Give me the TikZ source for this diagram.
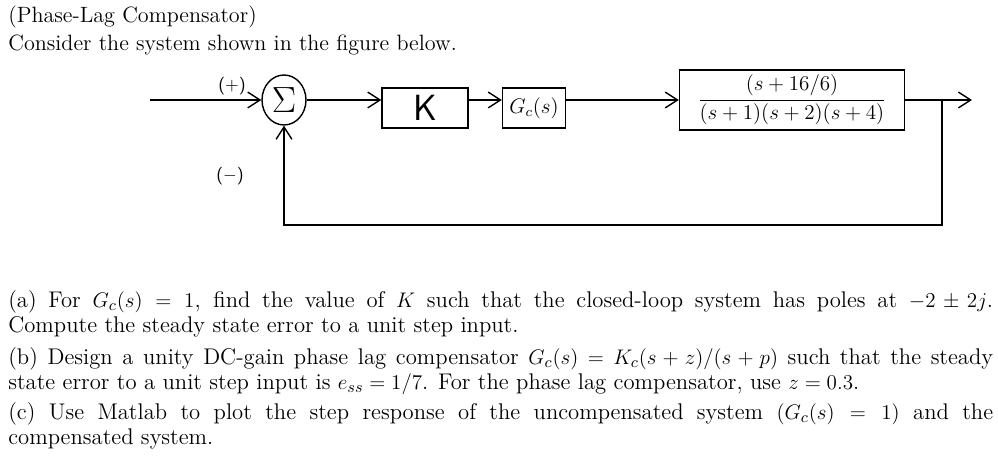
\documentclass[tikz,border=0pt]{standalone}
\usetikzlibrary{arrows.meta,shapes.geometric}
\begin{document}
\begin{tikzpicture}[x=0.02cm,y=-0.02cm,
  blk/.style={draw,thick,minimum height=0.8cm},
  arr/.style={thick,-{Straight Barb[length=7pt,width=9pt]}},
  txt/.style={anchor=north west,inner sep=0pt,font=\fontsize{12.6}{14.2}\selectfont},
  hand/.style={font=\sffamily\Large}]
\useasboundingbox (0,0) rectangle (998,462);
\node[txt] (t1) at (8,6) {(Phase-Lag Compensator)};
\node[txt] (t2) at (8,35) {Consider the system shown in the figure below.};
\node[ellipse,draw,thick,minimum width=0.88cm,minimum height=1cm,inner sep=0pt,font=\huge] (sum) at (284,100) {$\Sigma$};
\node[blk,minimum width=1.72cm,font=\sffamily\huge] (k) at (425,108) {K};
\node[blk,minimum width=1.26cm,font=\large] (gc) at (534,108) {$G_c(s)$};
\node[blk,minimum width=4.5cm,minimum height=1.2cm,font=\large,inner sep=1pt] (g) at (792,100) {$\displaystyle\frac{(s+16/6)}{(s+1)(s+2)(s+4)}$};
\coordinate (in) at (150,100);
\coordinate (tap) at (942,100);
\coordinate (out) at (972,100);
\coordinate (c1) at (942,225);
\coordinate (c2) at (284,225);
\draw[arr] (in) -- (sum.west);
\draw[arr] (sum.east) -- (k.west |- sum.east);
\draw[arr] (k.east |- 0,100) -- (gc.west |- 0,100);
\draw[arr] (gc.east |- 0,100) -- (g.west |- 0,100);
\draw[arr] (g.east |- 0,100) -- (out);
\draw[arr] (tap) -- (c1) -- (c2) -- (sum.south);
\node[font=\sffamily] (p) at (232,86) {(+)};
\node[font=\sffamily] (m) at (230,176) {($-$)};
\node[anchor=north west,inner sep=0pt] (q) at (8,290) {\begin{minipage}{19.7cm}\fontsize{12.9}{14.2}\selectfont
(a) For $G_c(s)=1$, find the value of $K$ such that the closed-loop system has poles at $-2\pm 2j$.\linebreak
Compute the steady state error to a unit step input.\\[4pt]
(b) Design a unity DC-gain phase lag compensator $G_c(s)=K_c(s+z)/(s+p)$ such that the steady\linebreak state error to a unit step input is $e_{ss}=1/7$. For the phase lag compensator, use $z=0.3$.\\[3pt]
(c) Use Matlab to plot the step response of the uncompensated system $(G_c(s)=1)$ and the\linebreak compensated system.
\end{minipage}};
\end{tikzpicture}
\end{document}
